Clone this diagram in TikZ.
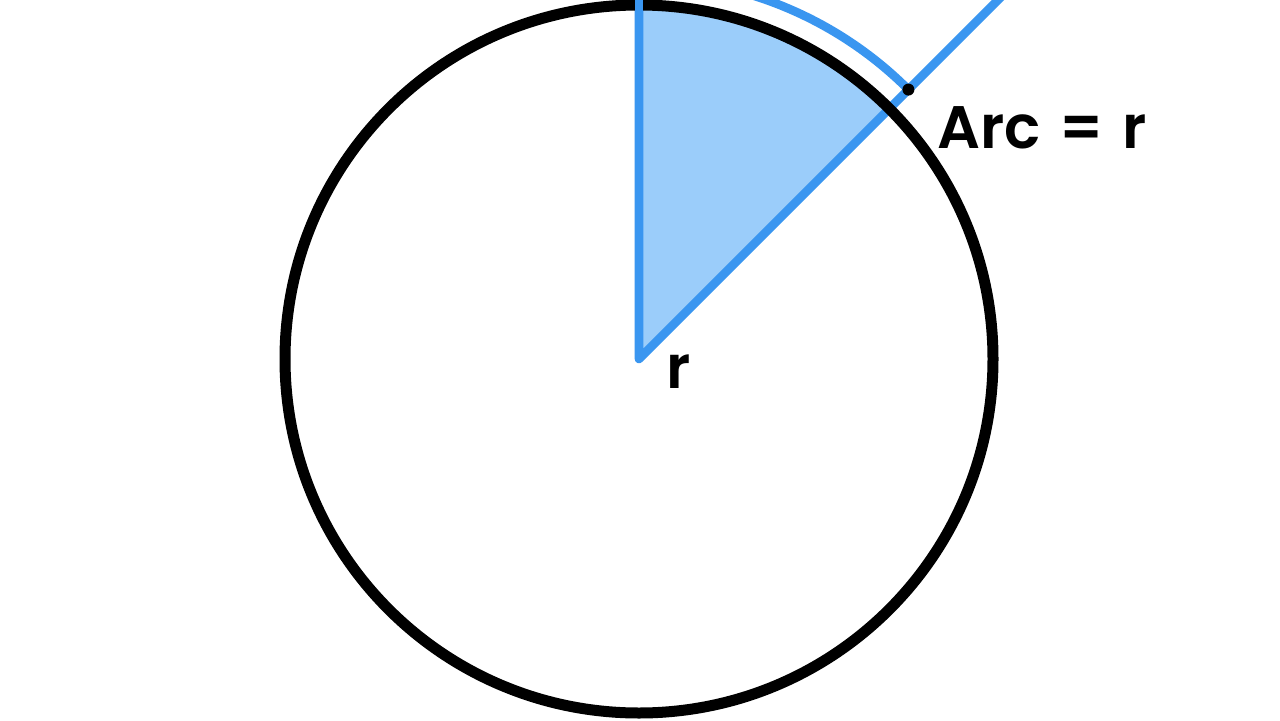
\documentclass[tikz,border=0pt]{standalone}
\usepackage{fontspec}
\setmainfont{Poppins}
\newfontfamily\popsb{Poppins}[UprightFont=* SemiBold]
\usetikzlibrary{calc}
\definecolor{lineblue}{RGB}{58,150,240}
\definecolor{fillblue}{RGB}{155,205,250}
\tikzset{
  blueline/.style={draw=lineblue,line width=4.3pt,line join=round,line cap=round},
  ring/.style={draw=black,line width=5.5pt},
  lbl/.style={font=\fontsize{30}{36}\selectfont\popsb,inner sep=0pt,anchor=base west}
}
\begin{document}
\begin{tikzpicture}[x=0.5pt,y=0.5pt]
\useasboundingbox (0,0) rectangle (1280,720);
\clip (0,0) rectangle (1280,720);
\fill[white] (0,0) rectangle (1280,720);
\coordinate (O) at (639,361);
\coordinate (T) at ($(O)+(90:354)$);
\coordinate (P) at ($(O)+(45:354)$);
\coordinate (Q) at ($(O)+(45:381)$);
\coordinate (E) at ($(O)+(45:600)$);
\coordinate (V) at ($(O)+(90:400)$);
% sector
\fill[fillblue] (O) -- (T) arc[start angle=90,end angle=45,radius=354] -- cycle;
% radial lines
\draw[blueline] (V) -- (O) -- (E);
% outer arc
\draw[blueline,line cap=butt] (Q) arc[start angle=45,end angle=95,radius=381];
% circle
\draw[ring] (O) circle[radius=354];
\draw[draw=lineblue,line width=4.3pt] ($(T)+(0,-8)$) -- (V);
% dot
\fill[black] (Q) circle[radius=6];
% labels
\node[lbl] (arc) at (937,572) {Arc\hspace{9.5pt}=\hspace{9.5pt}r};
\node[lbl] (r) at (666,332) {r};
\end{tikzpicture}
\end{document}
